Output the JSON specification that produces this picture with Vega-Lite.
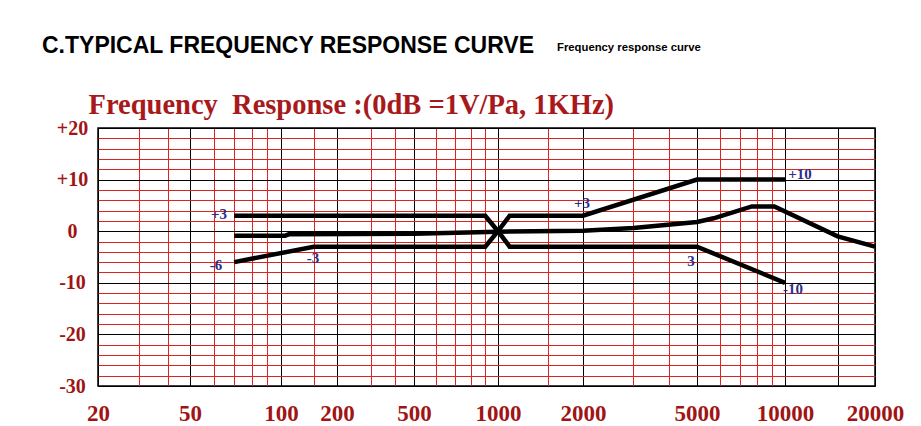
{
  "$schema": "https://vega.github.io/schema/vega-lite/v6.json",
  "width": 777,
  "height": 258,
  "autosize": {"type": "none"},
  "padding": {"left": 98, "top": 128, "right": 46, "bottom": 40},
  "background": "white",
  "config": {"view": {"stroke": "black", "strokeWidth": 1.5}},
  "title": {
    "text": "C.TYPICAL FREQUENCY RESPONSE CURVE",
    "anchor": "start",
    "frame": "group",
    "dx": -56,
    "dy": 20,
    "font": "Liberation Sans",
    "fontSize": 23,
    "fontWeight": "bold",
    "color": "black"
  },
  "datasets": {
    "curves": [
      {"series": "a", "freq": 70, "db": 3},
      {"series": "a", "freq": 900, "db": 3},
      {"series": "a", "freq": 1000, "db": 0},
      {"series": "a", "freq": 1100, "db": -3},
      {"series": "a", "freq": 5000, "db": -3},
      {"series": "a", "freq": 10000, "db": -10},
      {"series": "b", "freq": 70, "db": -6},
      {"series": "b", "freq": 150, "db": -3},
      {"series": "b", "freq": 900, "db": -3},
      {"series": "b", "freq": 1000, "db": 0},
      {"series": "b", "freq": 1100, "db": 3},
      {"series": "b", "freq": 2000, "db": 3},
      {"series": "b", "freq": 5000, "db": 10},
      {"series": "b", "freq": 10000, "db": 10},
      {"series": "c", "freq": 70, "db": -0.9},
      {"series": "c", "freq": 105, "db": -0.9},
      {"series": "c", "freq": 110, "db": -0.6},
      {"series": "c", "freq": 500, "db": -0.5},
      {"series": "c", "freq": 1000, "db": -0.1},
      {"series": "c", "freq": 2000, "db": 0.1},
      {"series": "c", "freq": 3000, "db": 0.6},
      {"series": "c", "freq": 5000, "db": 1.8},
      {"series": "c", "freq": 5700, "db": 2.5},
      {"series": "c", "freq": 7700, "db": 4.8},
      {"series": "c", "freq": 9200, "db": 4.8},
      {"series": "c", "freq": 15000, "db": -1},
      {"series": "c", "freq": 20000, "db": -3}
    ],
    "notes": [
      {"label": "+3", "freq": 62.4, "db": 3.3},
      {"label": "-6", "freq": 61, "db": -6.6},
      {"label": "-3", "freq": 148.6, "db": -5.2},
      {"label": "+3", "freq": 1985, "db": 5.4},
      {"label": "+10", "freq": 11225, "db": 11.0},
      {"label": "3", "freq": 4765, "db": -5.8},
      {"label": "-10", "freq": 10635, "db": -11.2}
    ],
    "header": [
      {"label": "Frequency response curve", "freq": 1618, "db": 35.6}
    ]
  },
  "layer": [
    {
      "data": {"name": "curves"},
      "mark": {"type": "line", "color": "black", "strokeWidth": 4.5},
      "encoding": {
        "x": {
          "field": "freq",
          "type": "quantitative",
          "scale": {
            "type": "log",
            "nice": false,
            "domain": [20, 50, 100, 200, 500, 1000, 2000, 5000, 10000, 20000],
            "range": [0, 92, 183, 239, 316, 400, 485, 599, 687, 777]
          },
          "axis": {
            "orient": "bottom",
            "values": [20, 30, 40, 50, 60, 70, 80, 90, 100, 150, 200, 300, 400, 500, 600, 700, 800, 900, 1000, 1500, 2000, 3000, 4000, 5000, 6000, 7000, 8000, 9000, 10000, 15000, 20000],
            "tickCount": 200,
            "grid": true,
            "gridColor": {
              "condition": {"test": "indexof([20,50,100,200,500,1000,2000,5000,10000,15000,20000], datum.value) >= 0", "value": "black"},
              "value": "#dd2222"
            },
            "gridWidth": 1,
            "gridOpacity": 1,
            "ticks": false,
            "tickSize": 0,
            "domain": false,
            "labelExpr": "indexof([20,50,100,200,500,1000,2000,5000,10000,20000], datum.value) >= 0 ? '' + datum.value : ''",
            "labelFont": "Liberation Serif",
            "labelFontWeight": "bold",
            "labelFontSize": 23,
            "labelColor": "#a01414",
            "labelPadding": 16,
            "labelOverlap": false,
            "labelFlush": false,
            "labelBound": false,
            "title": null
          }
        },
        "y": {
          "field": "db",
          "type": "quantitative",
          "scale": {"domain": [-30, 20], "nice": false, "zero": false},
          "axis": {
            "values": [-30, -28, -26, -24, -22, -20, -18, -16, -14, -12, -10, -8, -6, -4, -2, 0, 2, 4, 6, 8, 10, 12, 14, 16, 18, 20],
            "tickCount": 200,
            "grid": true,
            "gridColor": {
              "condition": {"test": "abs(datum.value) % 10 < 0.001", "value": "black"},
              "value": "#dd2222"
            },
            "gridWidth": 1,
            "gridOpacity": 1,
            "ticks": false,
            "tickSize": 0,
            "domain": false,
            "labelExpr": "abs(datum.value) % 10 < 0.001 ? (datum.value > 0 ? '+' + datum.value : '' + datum.value) : ''",
            "labelAlign": "center",
            "labelBaseline": "middle",
            "labelPadding": 26,
            "labelFont": "Liberation Serif",
            "labelFontWeight": "bold",
            "labelFontSize": 20,
            "labelColor": "#a01414",
            "labelOverlap": false,
            "labelFlush": false,
            "labelBound": false,
            "title": "Frequency\u00a0 Response :(0dB =1V/Pa, 1KHz)",
            "titleAngle": 0,
            "titleX": -10,
            "titleY": -15,
            "titleAlign": "left",
            "titleBaseline": "alphabetic",
            "titleFont": "Liberation Serif",
            "titleFontSize": 28.5,
            "titleFontWeight": "bold",
            "titleColor": "#a8191b"
          }
        },
        "detail": {"field": "series"}
      }
    },
    {
      "data": {"name": "notes"},
      "mark": {"type": "text", "font": "Liberation Serif", "fontWeight": "bold", "fontSize": 15, "color": "#2d2d87", "align": "center", "baseline": "middle"},
      "encoding": {
        "x": {"field": "freq", "type": "quantitative"},
        "y": {"field": "db", "type": "quantitative"},
        "text": {"field": "label"}
      }
    },
    {
      "data": {"name": "header"},
      "mark": {"type": "text", "font": "Liberation Sans", "fontWeight": "bold", "fontSize": 11.3, "color": "black", "align": "left", "baseline": "middle"},
      "encoding": {
        "x": {"field": "freq", "type": "quantitative"},
        "y": {"field": "db", "type": "quantitative"},
        "text": {"field": "label"}
      }
    }
  ]
}
